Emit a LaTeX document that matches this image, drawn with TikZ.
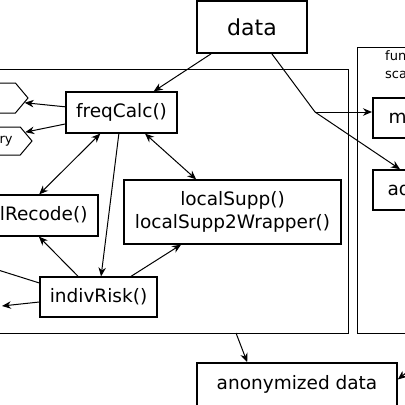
\documentclass[tikz,border=0pt]{standalone}
\usepackage{fontspec}
\setmainfont{DejaVu Sans}
\usetikzlibrary{arrows.meta, shapes.symbols, positioning}

\begin{document}
\begin{tikzpicture}[x=1pt, y=-1pt, >={Stealth[length=9pt,width=7.5pt]},
  box/.style={draw, line width=1.2pt, inner sep=0pt, minimum height=41pt,
    font=\fontsize{18.5pt}{23pt}\selectfont, align=center},
  bigbox/.style={box, line width=1.6pt},
  hexbox/.style={draw, line width=1pt, shape=signal, signal to=east and west,
    signal pointer angle=100, inner sep=0pt, font=\fontsize{13pt}{15pt}\selectfont},
  frame/.style={draw, line width=0.8pt},
  link/.style={line width=1pt}]
  \useasboundingbox (0,0) rectangle (405,405);
  \clip (0,0) rectangle (405,405);

  % frames
  \draw[frame] (-60,69) rectangle (348,333);
  \draw[frame] (357,47) rectangle (470,333);
  \node[anchor=north west, inner sep=0pt, align=left,
    font=\fontsize{13pt}{18pt}\selectfont] (scalelabel) at (385,50)
    {functions for continuous\\scaled variables};

  % nodes
  \node[bigbox, minimum width=110pt, minimum height=52pt,
    font=\fontsize{22pt}{26pt}\selectfont] (data) at (252,27) {data};
  \node[box, minimum width=111pt] (freq) at (121.5,112.5) {freqCalc()};
  \node[hexbox, minimum width=100pt, minimum height=30pt] (print) at (-22,98) {};
  \node[hexbox, minimum width=100pt, minimum height=28pt] (summary) at (-18,141) {summary};
  \node[box, minimum width=160pt] (recode) at (18,215.5) {globalRecode()};
  \node[box, minimum width=217pt, minimum height=64pt] (supp) at (232.5,212)
    {localSupp()\\localSupp2Wrapper()};
  \node[box, minimum width=117pt, minimum height=40pt] (risk) at (98.5,297) {indivRisk()};
  \node[bigbox, minimum width=210pt, minimum height=40pt, anchor=west] (micro) at (372,118)
    {microaggregation()};
  \node[bigbox, minimum width=130pt, minimum height=40pt, anchor=west] (noise) at (372,190)
    {addNoise()};
  \node[bigbox, minimum width=200pt, minimum height=43pt] (anon) at (297,384.5)
    {anonymized data};

  % free ends
  \coordinate (split) at (315,112);
  \coordinate (catout) at (236,333);
  \coordinate (scaleout) at (432,352);
  \coordinate (riskup) at (-40,258);
  \coordinate (riskleft) at (2,306);

  % connectors
  \draw[link, ->] (data) -- (freq);
  \draw[link] (data) -- (split);
  \draw[link, ->] (split) -- (split -| micro.west);
  \draw[link, ->] (split) -- ([xshift=28pt]noise.north west);
  \draw[link, ->] (freq) -- (print);
  \draw[link, ->] (freq) -- (summary);
  \draw[link, <->] (freq) -- (recode);
  \draw[link, <->] (freq) -- (supp);
  \draw[link, ->] (freq) -- (risk);
  \draw[link, ->] (risk) -- (recode);
  \draw[link, ->] (risk) -- (supp);
  \draw[link, ->] ([yshift=14pt]risk.west) -- (riskup);
  \draw[link, ->] ([yshift=-5pt]risk.west) -- (riskleft);
  \draw[link, ->] (catout) -- ([xshift=51pt]anon.north west);
  \draw[link, ->] (scaleout) -- ([yshift=5pt]anon.east);
\end{tikzpicture}
\end{document}
